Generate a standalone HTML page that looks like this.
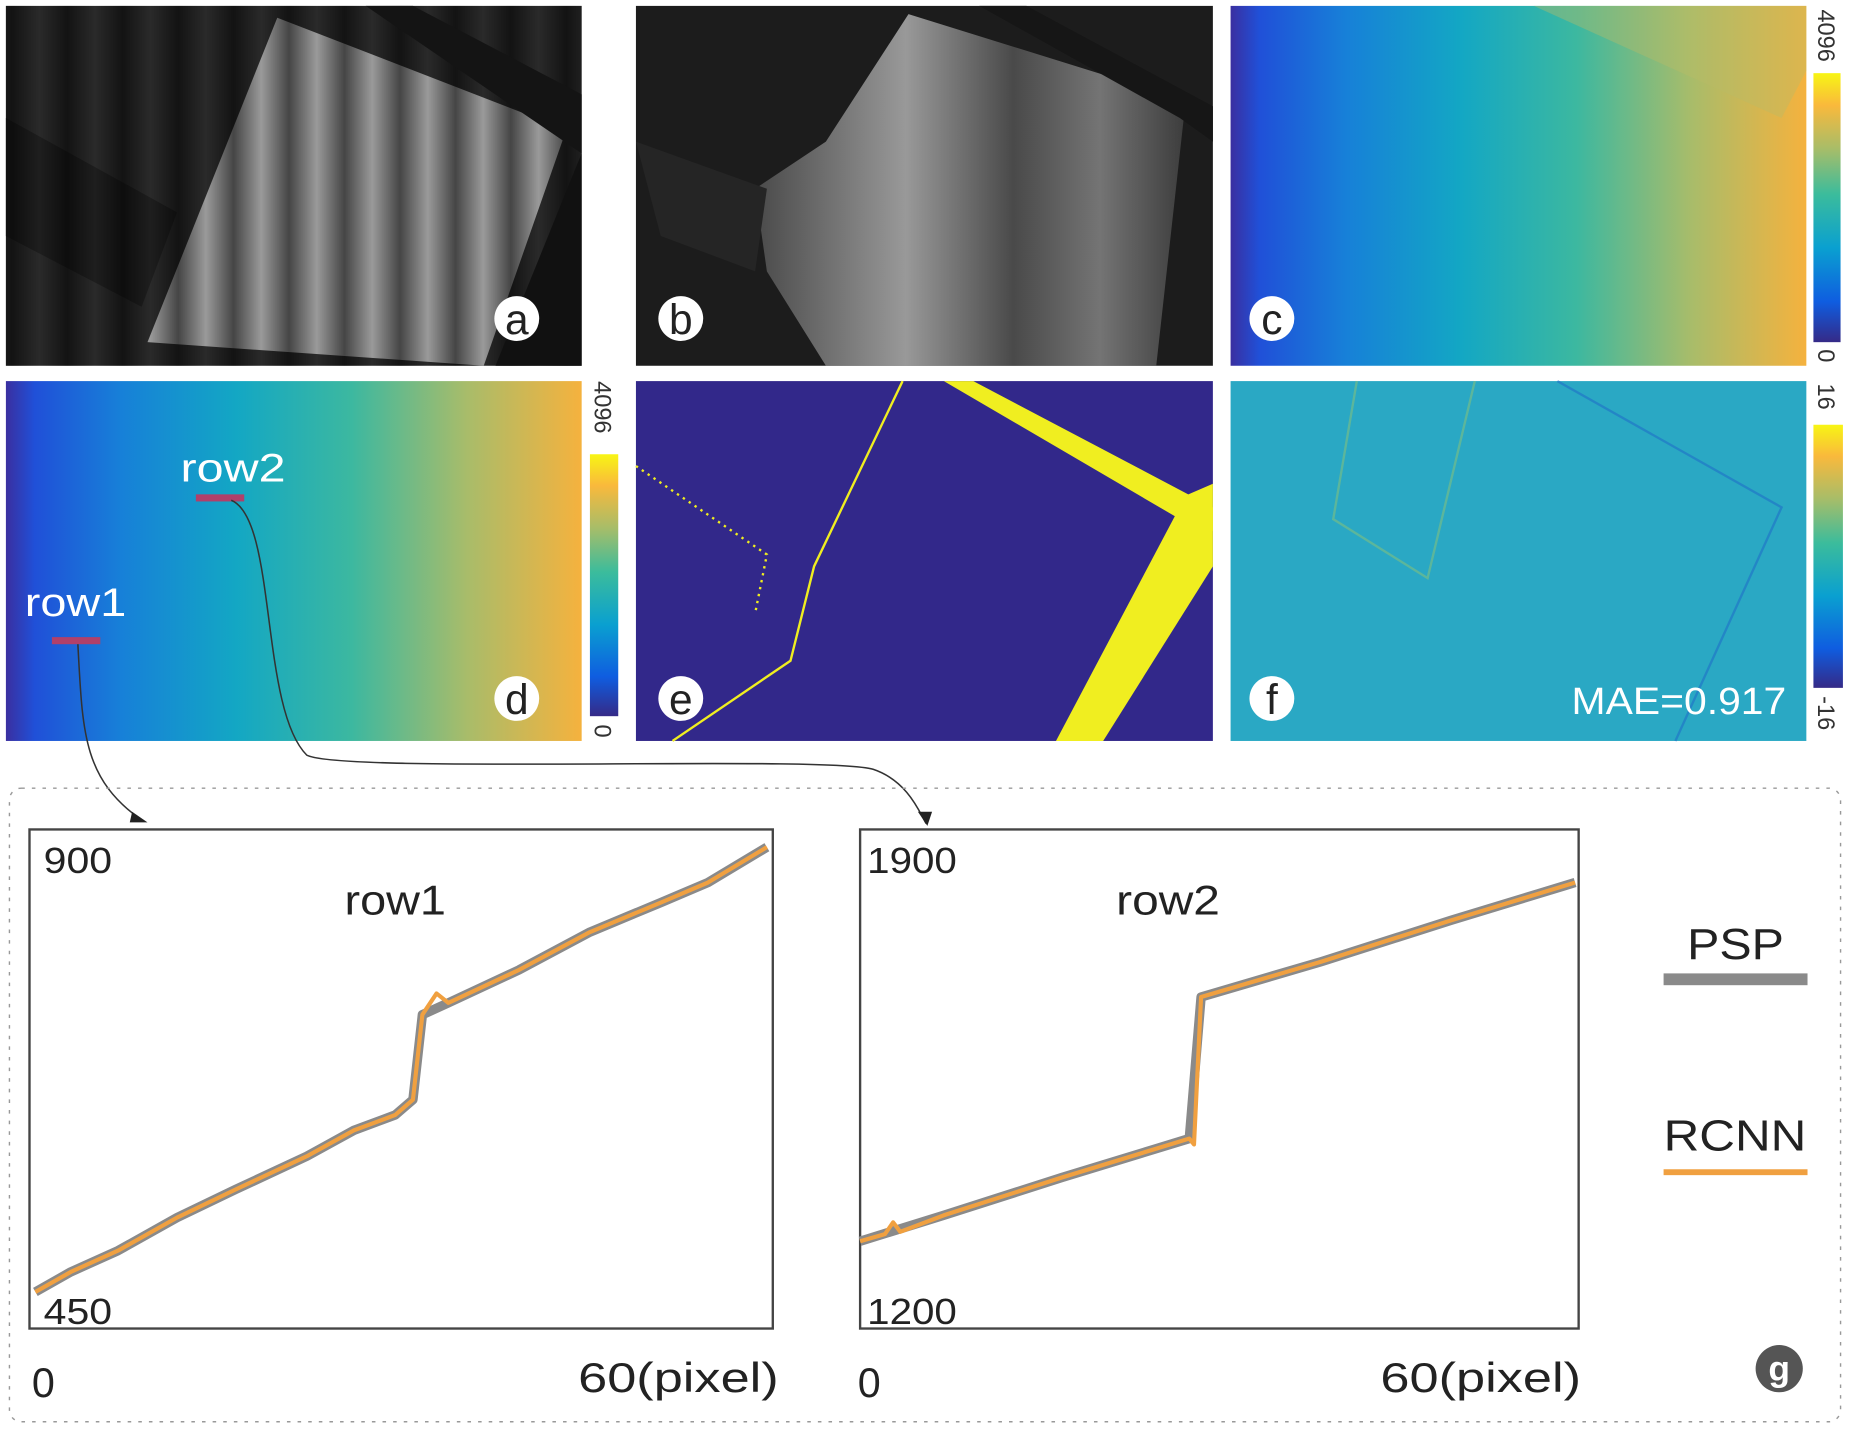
<!DOCTYPE html>
<html><head><meta charset="utf-8"><style>html,body{margin:0;padding:0;background:#fff}svg{display:block}</style></head><body>
<svg width="1850" height="1430" viewBox="0 0 1568 1212" preserveAspectRatio="none" xmlns="http://www.w3.org/2000/svg" font-family="Liberation Sans, sans-serif">
<defs>
<linearGradient id="par" x1="0" x2="1" y1="0" y2="0">
<stop offset="0" stop-color="#3a2fa0"/><stop offset="0.05" stop-color="#2050d8"/><stop offset="0.2" stop-color="#1780d8"/><stop offset="0.4" stop-color="#13a7c4"/><stop offset="0.6" stop-color="#3cb8a0"/><stop offset="0.8" stop-color="#a8bc6a"/><stop offset="1" stop-color="#f5b23e"/></linearGradient>
<linearGradient id="cbar" x1="0" x2="0" y1="1" y2="0">
<stop offset="0" stop-color="#352a87"/><stop offset="0.15" stop-color="#0f5de0"/><stop offset="0.35" stop-color="#0aa0d0"/><stop offset="0.55" stop-color="#3bbc9c"/><stop offset="0.72" stop-color="#a8bd68"/><stop offset="0.88" stop-color="#f9b93c"/><stop offset="1" stop-color="#f8f514"/></linearGradient>
<linearGradient id="stripe" x1="0" x2="1" y1="0" y2="0">
<stop offset="0" stop-color="#000" stop-opacity="0.55"/><stop offset="0.5" stop-color="#000" stop-opacity="0"/><stop offset="1" stop-color="#000" stop-opacity="0.55"/></linearGradient>
<pattern id="stp" width="47" height="10" patternUnits="userSpaceOnUse" x="10"><rect width="47" height="10" fill="url(#stripe)"/></pattern>
<linearGradient id="bband" x1="0" x2="1" y1="0" y2="0">
<stop offset="0" stop-color="#555"/><stop offset="0.35" stop-color="#b8b8b8"/><stop offset="0.6" stop-color="#555"/><stop offset="0.8" stop-color="#8a8a8a"/><stop offset="1" stop-color="#444"/></linearGradient>
</defs>
<!-- a -->
<rect x="5" y="5" width="488" height="305" fill="#2a2a2a"/>
<polygon points="235,15 480,110 410,310 125,290" fill="#9a9a9a"/>
<polygon points="5,100 150,180 120,260 5,200" fill="#1e1e1e"/>
<rect x="5" y="5" width="488" height="305" fill="url(#stp)"/>
<polygon points="310,5 350,5 493,80 493,130" fill="#141414"/>
<polygon points="420,310 493,130 493,310" fill="#111"/>
<circle cx="438" cy="270" r="19" fill="#fff"/><text x="438" y="283" font-size="36" text-anchor="middle" fill="#222">a</text>
<!-- b -->
<rect x="539" y="5" width="489" height="305" fill="#1c1c1c"/>
<polygon points="770,12 1005,85 980,310 700,310 650,230 640,160 700,120" fill="url(#bband)" opacity="0.8"/>
<polygon points="830,5 870,5 1028,90 1028,120 1000,100" fill="#161616"/>
<polygon points="539,120 650,160 640,230 560,200" fill="#252525"/>
<circle cx="577" cy="270" r="19" fill="#fff"/><text x="577" y="283" font-size="36" text-anchor="middle" fill="#222">b</text>
<!-- c -->
<rect x="1043" y="5" width="488" height="305" fill="url(#par)"/>
<polygon points="1300,5 1531,5 1531,60 1510,100" fill="#b8bc66" opacity="0.4"/>
<circle cx="1078" cy="270" r="19" fill="#fff"/><text x="1078" y="283" font-size="36" text-anchor="middle" fill="#222">c</text>
<rect x="1537" y="62" width="23" height="228" fill="url(#cbar)"/>
<text transform="translate(1541,8) rotate(90)" font-size="20" fill="#333">4096</text>
<text transform="translate(1541,296) rotate(90)" font-size="20" fill="#333">0</text>
<!-- d -->
<rect x="5" y="323" width="488" height="305" fill="url(#par)"/>
<rect x="500" y="385" width="24" height="222" fill="url(#cbar)"/>
<text transform="translate(504,323) rotate(90)" font-size="20" fill="#333">4096</text>
<text transform="translate(504,614) rotate(90)" font-size="20" fill="#333">0</text>
<text x="153" y="408" font-size="34" textLength="89" lengthAdjust="spacingAndGlyphs" fill="#fff">row2</text>
<rect x="166" y="419" width="41" height="6" fill="#b0406a"/>
<text x="21" y="522" font-size="34" textLength="86" lengthAdjust="spacingAndGlyphs" fill="#fff">row1</text>
<rect x="44" y="540" width="41" height="6" fill="#b0406a"/>
<circle cx="438" cy="592" r="19" fill="#fff"/><text x="438" y="605" font-size="36" text-anchor="middle" fill="#222">d</text>
<!-- e -->
<rect x="539" y="323" width="489" height="305" fill="#32288a"/>
<polygon points="800,323 825,323 1028,430 1028,450 1000,440" fill="#f0ee20"/>
<polygon points="1005,420 1028,410 1028,480 935,628 895,628" fill="#f0ee20"/>
<polyline points="765,323 690,480 670,560 570,628" fill="none" stroke="#f0ee20" stroke-width="2"/>
<polyline points="539,395 650,470 640,520" fill="none" stroke="#f0ee20" stroke-width="2" stroke-dasharray="2,4"/>
<circle cx="577" cy="592" r="19" fill="#fff"/><text x="577" y="605" font-size="36" text-anchor="middle" fill="#222">e</text>
<!-- f -->
<rect x="1043" y="323" width="488" height="305" fill="#2aa8c4"/>
<polyline points="1150,323 1130,440 1210,490 1250,323" fill="none" stroke="#7ec080" stroke-width="2" opacity="0.6"/>
<polyline points="1320,323 1510,430 1420,628" fill="none" stroke="#2070c8" stroke-width="2" opacity="0.6"/>
<circle cx="1078" cy="592" r="19" fill="#fff"/><text x="1078" y="605" font-size="36" text-anchor="middle" fill="#222">f</text>
<text x="1332" y="605" font-size="32" textLength="182" lengthAdjust="spacingAndGlyphs" fill="#fff">MAE=0.917</text>
<rect x="1537" y="360" width="25" height="223" fill="url(#cbar)"/>
<text transform="translate(1541,325) rotate(90)" font-size="20" fill="#333">16</text>
<text transform="translate(1541,590) rotate(90)" font-size="20" fill="#333">-16</text>
<!-- connectors -->
<path d="M66,546 C70,620 70,660 120,695" fill="none" stroke="#333" stroke-width="1.3"/>
<polygon points="112,688 125,697 110,697" fill="#222"/>
<path d="M196,424 C235,440 220,600 260,640 C290,656 700,640 740,652 C770,662 780,690 785,698" fill="none" stroke="#333" stroke-width="1.3"/>
<polygon points="778,688 790,688 786,700" fill="#222"/>
<!-- dashed box -->
<rect x="8" y="668" width="1552" height="537" rx="10" fill="none" stroke="#999" stroke-width="1.2" stroke-dasharray="3,6"/>
<!-- plot1 -->
<rect x="25" y="703" width="630" height="423" fill="#fff" stroke="#444" stroke-width="2"/>
<text x="37" y="740" font-size="31" textLength="58" lengthAdjust="spacingAndGlyphs" fill="#222">900</text>
<text x="37" y="1122" font-size="31" textLength="58" lengthAdjust="spacingAndGlyphs" fill="#222">450</text>
<text x="292" y="775" font-size="35" textLength="86" lengthAdjust="spacingAndGlyphs" fill="#222">row1</text>
<polyline points="30,1095 60,1078 100,1060 150,1032 200,1008 260,980 300,958 335,945 350,932 358,860 380,850 440,822 500,790 560,765 600,748 650,718" fill="none" stroke="#8a8a8a" stroke-width="8" stroke-linejoin="round"/>
<polyline points="30,1095 60,1078 100,1060 150,1032 200,1008 260,980 300,958 335,945 350,932 358,860 370,842 380,850 440,822 500,790 560,765 600,748 650,718" fill="none" stroke="#f0a040" stroke-width="3.5" stroke-linejoin="round"/>
<!-- plot2 -->
<rect x="729" y="703" width="609" height="423" fill="#fff" stroke="#444" stroke-width="2"/>
<text x="735" y="740" font-size="31" textLength="76" lengthAdjust="spacingAndGlyphs" fill="#222">1900</text>
<text x="735" y="1122" font-size="31" textLength="76" lengthAdjust="spacingAndGlyphs" fill="#222">1200</text>
<text x="946" y="775" font-size="35" textLength="88" lengthAdjust="spacingAndGlyphs" fill="#222">row2</text>
<polyline points="729,1052 800,1030 900,998 1008,965 1018,845 1120,815 1230,780 1335,748" fill="none" stroke="#8a8a8a" stroke-width="8" stroke-linejoin="round"/>
<polyline points="729,1052 750,1046 757,1036 763,1044 800,1030 900,998 1008,965 1012,970 1018,845 1120,815 1230,780 1335,748" fill="none" stroke="#f0a040" stroke-width="3.5" stroke-linejoin="round"/>
<!-- axis labels -->
<text x="27" y="1184" font-size="35" fill="#222">0</text>
<text x="490" y="1180" font-size="35" textLength="170" lengthAdjust="spacingAndGlyphs" fill="#222">60(pixel)</text>
<text x="727" y="1184" font-size="35" fill="#222">0</text>
<text x="1170" y="1180" font-size="35" textLength="170" lengthAdjust="spacingAndGlyphs" fill="#222">60(pixel)</text>
<!-- legend -->
<text x="1430" y="813" font-size="37" textLength="82" lengthAdjust="spacingAndGlyphs" fill="#222">PSP</text>
<rect x="1410" y="825" width="122" height="10" fill="#8a8a8a"/>
<text x="1410" y="975" font-size="37" textLength="121" lengthAdjust="spacingAndGlyphs" fill="#222">RCNN</text>
<rect x="1410" y="991" width="122" height="5" fill="#f0a040"/>
<circle cx="1508" cy="1160" r="20" fill="#555"/><text x="1508" y="1170" font-size="30" text-anchor="middle" font-weight="bold" fill="#fff">g</text>
</svg>
</body></html>
